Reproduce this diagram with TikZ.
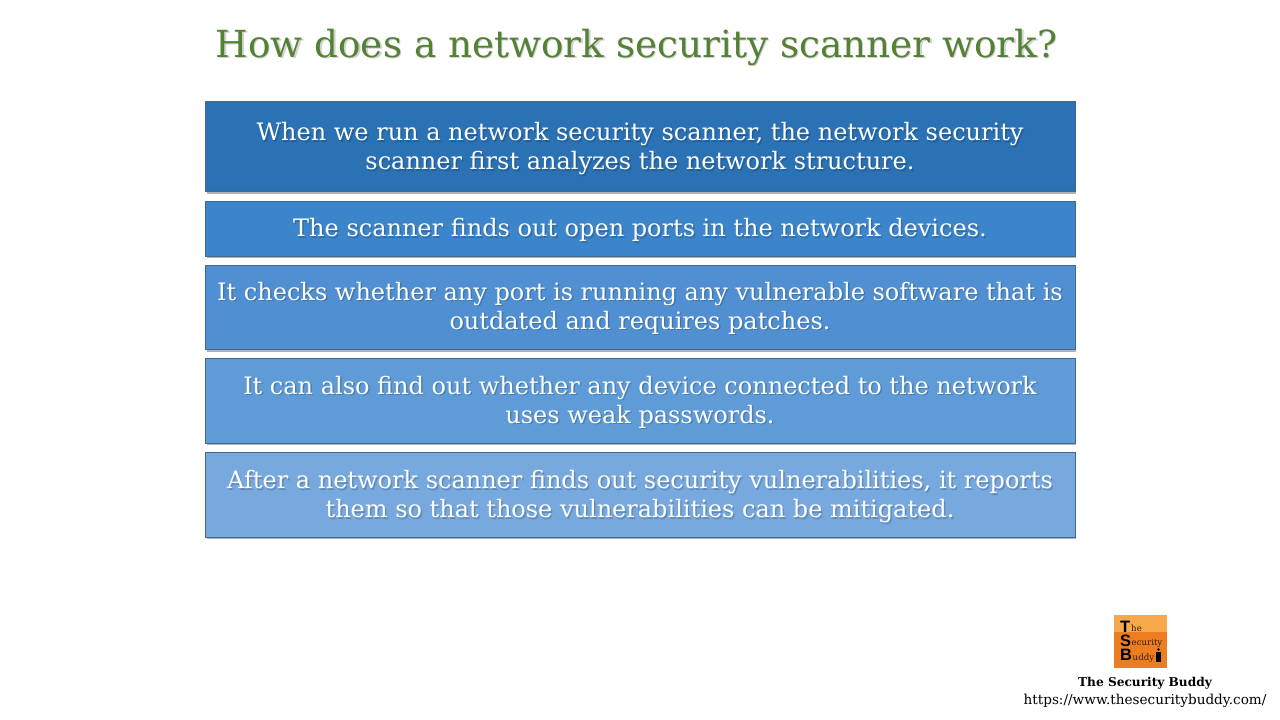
\documentclass[tikz,border=0pt]{standalone}
\usepackage{fontspec}
\setmainfont{DejaVu Serif}
\newfontfamily\logosans{Liberation Sans}
\usetikzlibrary{shadows}
\definecolor{titlegreen}{HTML}{548235}
\definecolor{edgeblue}{HTML}{41688F}
\definecolor{boxa}{HTML}{2B72B5}
\definecolor{boxb}{HTML}{3D85CB}
\definecolor{boxc}{HTML}{5090D2}
\definecolor{boxd}{HTML}{5F9BD6}
\definecolor{boxe}{HTML}{78A9DE}
\definecolor{logolight}{HTML}{F5A94A}
\definecolor{logodark}{HTML}{ED7D21}
\tikzset{
  x=1pt,y=-1pt,
  stepbox/.style={draw=edgeblue,line width=0.9pt,minimum width=869.5pt,inner sep=0pt,anchor=north west,
    general shadow={shadow xshift=1.5pt,shadow yshift=-2pt,fill=black,opacity=0.3}},
  boxtext/.style={text=white,align=center,font=\fontsize{24}{29}\selectfont,anchor=center},
  boxshade/.style={text=black,opacity=0.18,align=center,font=\fontsize{24}{29}\selectfont,anchor=center},
  titletext/.style={text=titlegreen,font=\fontsize{37.33}{42}\selectfont,anchor=center},
  titleshade/.style={text=black,opacity=0.18,font=\fontsize{37.33}{42}\selectfont,anchor=center},
  logoletter/.style={font=\logosans\bfseries\fontsize{16.5}{16}\selectfont,text=black,anchor=base west,inner sep=0pt},
  logosmall/.style={font=\fontsize{8.6}{9}\selectfont,text=black!80!orange,anchor=base west,inner sep=0pt},
  footbold/.style={font=\bfseries\fontsize{12.15}{15}\selectfont,text=black,anchor=center},
  foot/.style={font=\fontsize{13.6}{15}\selectfont,text=black,anchor=center}
}
\newcommand{\boxline}[3]{%
  \node[boxshade] at (641.5,#1+1.5) {#3};
  \node[boxtext] (#2) at (640,#1) {#3};}
\begin{document}
\begin{tikzpicture}
\useasboundingbox[fill=white] (0,0) rectangle (1280,720);
\node[titleshade] at (638,48.5) {How does a network security scanner work?};
\node[titletext] (title) at (636.5,47) {How does a network security scanner work?};

\node[stepbox,fill=boxa,minimum height=90.5pt] (b1) at (205,100.8) {};
\node[stepbox,fill=boxb,minimum height=55pt] (b2) at (205,200.8) {};
\node[stepbox,fill=boxc,minimum height=84.5pt] (b3) at (205,264.8) {};
\node[stepbox,fill=boxd,minimum height=85pt] (b4) at (205,358) {};
\node[stepbox,fill=boxe,minimum height=85pt] (b5) at (205,452) {};

\boxline{149}{t1}{When we run a network security scanner, the network security\\scanner first analyzes the network structure.}
\boxline{230}{t2}{The scanner finds out open ports in the network devices.}
\boxline{308}{t3}{It checks whether any port is running any vulnerable software that is\\outdated and requires patches.}
\boxline{402}{t4}{It can also find out whether any device connected to the network\\uses weak passwords.}
\boxline{497}{t5}{After a network scanner finds out security vulnerabilities, it reports\\them so that those vulnerabilities can be mitigated.}

\fill[logodark] (1114,615) rectangle (1167,668);
\fill[logolight] (1114,615) rectangle (1167,632);
\node[logoletter] (lt) at (1120,632) {T};
\node[logosmall] (lt2) at (1131,631) {he};
\node[logoletter] (ls) at (1120,646.5) {S};
\node[logosmall] (ls2) at (1131.5,645) {ecurity};
\node[logoletter] (lb) at (1120,660.5) {B};
\node[logosmall] (lb2) at (1132.5,660) {uddy};
\fill[black] (1156,652) rectangle (1161,662);
\fill[black] (1158.5,649.5) circle (1.4);

\node[footbold] (name) at (1145,683) {The Security Buddy};
\node[foot] (url) at (1145,701) {https://www.thesecuritybuddy.com/};
\end{tikzpicture}
\end{document}
